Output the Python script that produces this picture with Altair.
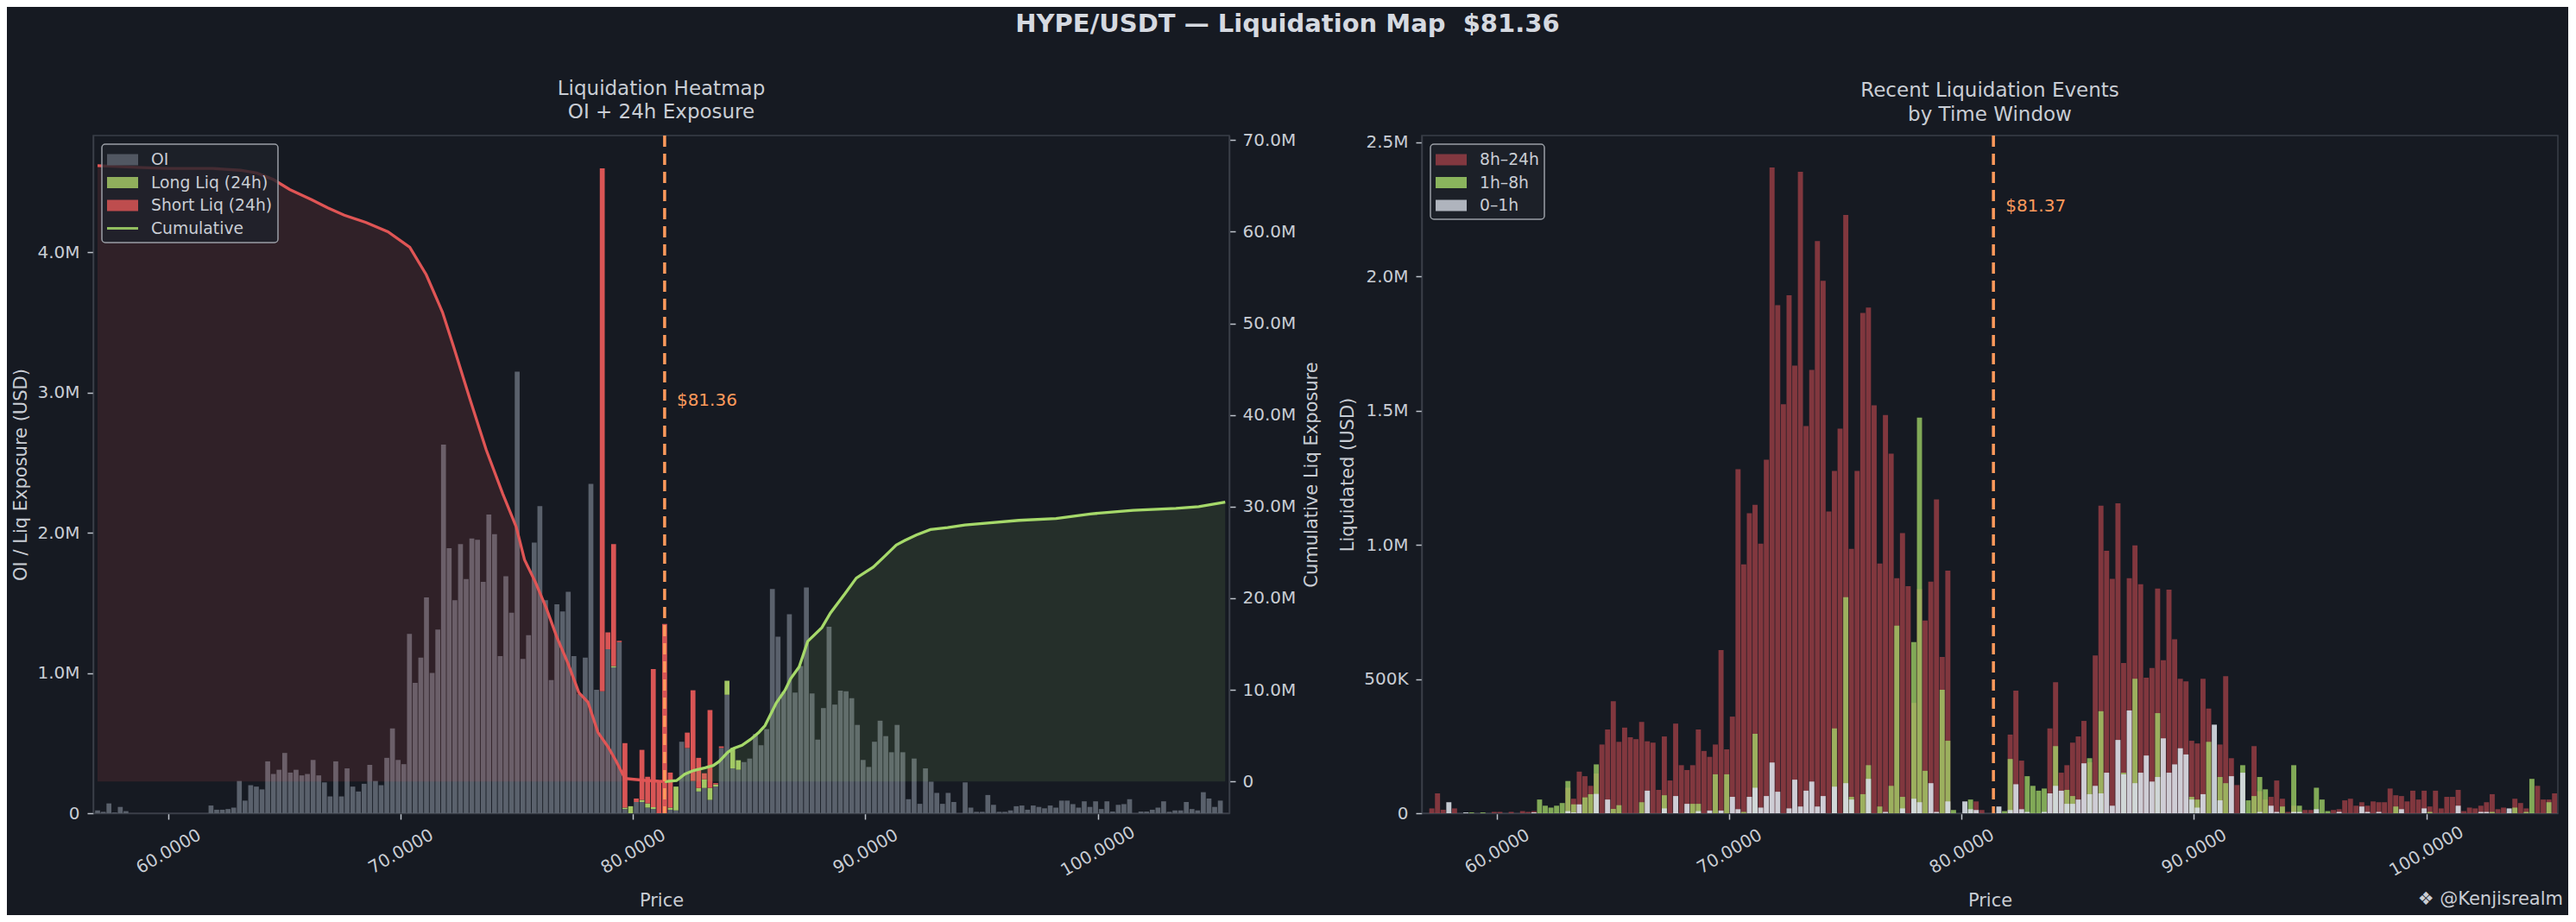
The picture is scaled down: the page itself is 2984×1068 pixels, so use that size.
import altair as alt
import pandas as pd

FONT = "DejaVu Sans"
BG = "#161a22"
TEXT = "#c9cdd4"
SPINE = "#3a3f48"
ORANGE = "#ff9a5c"
RED = "#e05555"
GREEN = "#a6d96a"

PRICE_LEFT = 81.36
PRICE_RIGHT = 81.37
BIN_STEP = 0.003                      # each bin is 0.3 % of price
BIN_OFFSETS = list(range(-100, 100))  # bin offsets from current price
X_DOMAIN = [56.95, 105.48]

x_ticks = [60, 70, 80, 90, 100]
left_ticks = [0, 1e6, 2e6, 3e6, 4e6]
cum_ticks = [0, 1e7, 2e7, 3e7, 4e7, 5e7, 6e7, 7e7]
right_ticks = [0, 5e5, 1e6, 1.5e6, 2e6, 2.5e6]

# ---------------- left panel (millions USD), bins -100..99 ----------------
oi_m = [
    0.02, 0.01, 0.07, 0.005, 0.045, 0.015, 0, 0, 0, 0,
    0, 0, 0, 0, 0, 0, 0, 0, 0, 0,
    0.055, 0.025, 0.025, 0.03, 0.04, 0.23, 0.09, 0.2, 0.19, 0.17,
    0.37, 0.28, 0.31, 0.43, 0.29, 0.31, 0.27, 0.28, 0.38, 0.27,
    0.22, 0.12, 0.37, 0.12, 0.32, 0.19, 0.155, 0.21, 0.345, 0.23,
    0.2, 0.395, 0.605, 0.38, 0.35, 1.28, 0.93, 1.11, 1.54, 1.0,
    1.31, 2.63, 1.89, 1.52, 1.92, 1.67, 1.96, 1.95, 1.65, 2.13,
    1.99, 1.12, 1.69, 1.43, 3.15, 1.10, 1.27, 1.93, 2.19, 1.52,
    0.95, 1.49, 1.44, 1.58, 1.12, 0.85, 1.11, 2.35, 0.88, 0.87,
    1.17, 1.04, 1.22, 0.03, 0, 0.08, 0.08, 0.04, 0.03, 0,
    0, 0.025, 0.02, 0.51, 0.465, 0.23, 0.155, 0.18, 0.095, 0.19,
    0.465, 0.845, 0.32, 0.31, 0.365, 0.39, 0.565, 0.485, 0.6, 1.6,
    1.26, 0.865, 1.42, 0.86, 1.05, 1.61, 0.855, 0.525, 0.75, 1.33,
    0.775, 0.875, 0.87, 0.82, 0.63, 0.38, 0.33, 0.51, 0.66, 0.55,
    0.435, 0.63, 0.435, 0.10, 0.39, 0.067, 0.32, 0.225, 0.145, 0.067,
    0.145, 0.08, 0, 0.22, 0.04, 0.01, 0.01, 0.13, 0.06, 0.01,
    0.01, 0.02, 0.05, 0.055, 0.025, 0.055, 0.045, 0.035, 0.055, 0.04,
    0.09, 0.09, 0.065, 0.04, 0.085, 0.045, 0.085, 0.03, 0.085, 0.012,
    0.06, 0.065, 0.1, 0, 0.012, 0.012, 0.025, 0.04, 0.085, 0.01,
    0.02, 0.02, 0.08, 0.03, 0.02, 0.15, 0.105, 0.045, 0.09, 0,
]
long_liq_m = {-9: 0.01, -7: 0.01, -6: 0.05, -4: 0.015, -3: 0.03, -2: 0.013,
              1: 0.015, 2: 0.17, 6: 0.025, 7: 0.062, 8: 0.086, 9: 0.015,
              11: 0.1, 12: 0.146, 13: 0.068}
short_liq_m = {-11: 3.73, -10: 0.12, -9: 0.87, -8: 0.01, -7: 0.46, -5: 0.025,
               -4: 0.357, -3: 0.19, -2: 0.985, -1: 0.23, 0: 1.35, 1: 0.25,
               4: 0.11, 5: 0.647, 6: 0.215, 7: 0.043, 8: 0.555, 9: 0.01, 10: 0.012}

cum_short_price = [56.95, 58.87, 60.04, 61.92, 63.10, 63.80, 64.51, 65.22, 66.16, 66.86,
                   67.57, 68.51, 69.45, 70.39, 71.10, 71.80, 72.27, 72.97, 73.68, 74.39,
                   74.97, 75.33, 75.79, 76.27, 76.73, 77.20, 77.67, 78.06, 78.49, 78.92,
                   79.28, 79.65, 80.52, 81.31]
cum_short_m = [67.2, 67.0, 66.9, 66.9, 66.7, 66.4, 65.7, 64.6, 63.5, 62.6,
               61.8, 61.0, 60.0, 58.3, 55.3, 51.2, 47.5, 41.8, 36.2, 31.4,
               27.8, 24.2, 21.8, 18.9, 15.7, 12.9, 9.7, 8.66, 5.36, 3.8,
               2.2, 0.34, 0.12, 0.0]
cum_long_price = [81.37, 81.87, 82.23, 82.60, 83.10, 83.46, 83.71, 84.08, 84.32, 84.69,
                  85.06, 85.43, 85.68, 86.17, 86.54, 86.78, 87.15, 87.52, 88.13, 88.50,
                  89.12, 89.61, 89.85, 90.34, 90.84, 91.33, 91.70, 92.19, 92.80, 93.54,
                  94.28, 95.26, 96.61, 98.21, 99.68, 101.53, 103.37, 104.35, 105.49]
cum_long_m = [0.0, 0.1, 0.8, 1.2, 1.5, 1.75, 2.2, 3.2, 3.6, 3.95,
              4.6, 5.4, 6.1, 8.6, 9.95, 11.2, 12.5, 15.3, 16.8, 18.4,
              20.5, 22.2, 22.6, 23.4, 24.6, 25.8, 26.3, 26.9, 27.5, 27.7,
              28.0, 28.2, 28.5, 28.7, 29.2, 29.6, 29.8, 30.0, 30.5]

# ---------------- right panel (millions USD), bins -100..99 ----------------
liq_8h_24h_m = [
    0, 0.018, 0.074, 0.013, 0, 0.018, 0, 0, 0, 0,
    0, 0, 0.005, 0.005, 0, 0.005, 0, 0.008, 0.005, 0.008,
    0, 0, 0, 0, 0, 0.095, 0.054, 0.155, 0.138, 0.102,
    0.148, 0.256, 0.312, 0.417, 0.266, 0.319, 0.283, 0.276, 0.34, 0.268,
    0.263, 0.087, 0.286, 0.122, 0.334, 0.179, 0.161, 0.179, 0.312, 0.232,
    0.21, 0.256, 0.608, 0.238, 0.36, 1.282, 0.927, 1.118, 1.149, 1.004,
    1.317, 2.406, 1.893, 1.524, 1.93, 1.668, 2.39, 1.443, 1.652, 2.132,
    1.984, 1.124, 1.275, 1.433, 2.229, 0.985, 1.275, 1.864, 1.884, 1.52,
    0.93, 1.484, 1.34, 0.876, 1.044, 0.846, 0.411, 0.835, 0.718, 0.863,
    1.169, 0.582, 0.904, 0, 0, 0, 0, 0.044, 0.012, 0,
    0, 0, 0, 0.293, 0.457, 0.196, 0, 0, 0, 0,
    0.316, 0.488, 0.151, 0.179, 0.263, 0.286, 0.344, 0.19, 0.588, 1.146,
    0.978, 0.873, 1.155, 0.56, 0.876, 0.998, 0.853, 0.505, 0.541, 0.837,
    0.57, 0.833, 0.648, 0.501, 0.491, 0.27, 0.26, 0.501, 0.39, 0,
    0.256, 0.511, 0.205, 0.105, 0, 0, 0.25, 0.082, 0.051, 0.061,
    0.122, 0.054, 0.005, 0.028, 0, 0.012, 0.012, 0, 0, 0,
    0.012, 0.015, 0.048, 0.054, 0.028, 0.041, 0.028, 0.044, 0.041, 0.041,
    0.092, 0.067, 0.064, 0.044, 0.084, 0.051, 0.084, 0.025, 0.084, 0.018,
    0.061, 0.061, 0.087, 0.008, 0.021, 0.018, 0.028, 0.041, 0.071, 0.015,
    0.021, 0, 0.054, 0.038, 0.018, 0, 0.102, 0.051, 0.051, 0.074,
]
liq_1h_8h_m = {-92: 0.003, -90: 0.003, -80: 0.051, -79: 0.028, -78: 0.021, -77: 0.028,
               -76: 0.038, -75: 0.12, -74: 0.033, -72: 0.059, -71: 0.071, -70: 0.182,
               -67: 0.016, -66: 0.03, -62: 0.041, -58: 0.067, -53: 0.035, -52: 0.035,
               -49: 0.145, -47: 0.145, -44: 0.005, -42: 0.296, -28: 0.316, -26: 0.805,
               -25: 0.061, -23: 0.071, -22: 0.179, -20: 0.025, -18: 0.102, -17: 0.699,
               -16: 0.061, -14: 0.638, -13: 1.474, -12: 0.158, -9: 0.46, -8: 0.27,
               -7: 0.012, -4: 0.051, 2: 0.008, 3: 0.202, 6: 0.138, 7: 0.102, 8: 0.084,
               9: 0.092, 11: 0.25, 13: 0.087, 14: 0.064, 17: 0.205, 19: 0.38, 23: 0.151,
               25: 0.501, 29: 0.373, 35: 0.061, 36: 0.051, 38: 0.266, 40: 0.135,
               41: 0.112, 44: 0.179, 45: 0.048, 46: 0.064, 47: 0.135, 48: 0.089,
               51: 0.025, 53: 0.179, 54: 0.028, 57: 0.095, 58: 0.051, 59: 0.008,
               71: 0.025, 77: 0.005, 88: 0.005, 92: 0.021, 94: 0.005, 95: 0.128, 98: 0.041}
liq_0_1h_m = {-96: 0.041, -93: 0.003, -81: 0.003, -75: 0.008, -74: 0.003, -73: 0.033,
              -70: 0.072, -68: 0.051, -61: 0.084, -58: 0.018, -56: 0.064, -54: 0.035,
              -52: 0.008, -50: 0.01, -48: 0.01, -46: 0.061, -45: 0.015, -43: 0.061,
              -42: 0.095, -41: 0.021, -40: 0.064, -39: 0.189, -38: 0.08, -36: 0.018,
              -35: 0.125, -34: 0.025, -33: 0.084, -32: 0.118, -31: 0.025, -30: 0.064,
              -28: 0.099, -26: 0.112, -25: 0.051, -22: 0.128, -19: 0.005, -16: 0.018,
              -14: 0.054, -13: 0.041, -11: 0.112, -10: 0.005, -8: 0.044, -5: 0.044,
              -4: 0.015, -3: 0.012, 1: 0.025, 3: 0.012, 4: 0.108, 5: 0.015, 6: 0.005,
              9: 0.005, 10: 0.074, 11: 0.102, 12: 0.084, 13: 0.035, 14: 0.035, 15: 0.051,
              16: 0.186, 17: 0.071, 18: 0.102, 19: 0.074, 20: 0.151, 21: 0.028, 22: 0.273,
              23: 0.145, 24: 0.383, 25: 0.112, 26: 0.151, 27: 0.215, 28: 0.118, 29: 0.135,
              30: 0.279, 31: 0.151, 32: 0.182, 33: 0.242, 34: 0.219, 35: 0.051, 36: 0.021,
              37: 0.071, 39: 0.33, 40: 0.048, 42: 0.138, 44: 0.151, 47: 0.005, 49: 0.028,
              50: 0.005, 53: 0.005, 54: 0.005, 57: 0.015, 61: 0.005, 65: 0.025, 66: 0.005,
              68: 0.005, 72: 0.015, 76: 0.018, 82: 0.028, 86: 0.005, 87: 0.005, 91: 0.018}

LEFT_SERIES = ["OI", "Long Liq (24h)", "Short Liq (24h)", "Cumulative"]
LEFT_COLORS = ["#5a616c", "#a3c765", "#d95555", GREEN]
WINDOWS = ["8h\u201324h", "1h\u20138h", "0\u20131h"]
WINDOW_COLORS = ["#9c3f46", GREEN, "#d5dae2"]
SWATCH = "M-1,-0.55H2V0.55H-1Z"
LINE_SWATCH = "M-1,-0.13H2V0.13H-1Z"


def bin_price(j):
    return round(PRICE_LEFT * (1 + BIN_STEP * j), 4)


# ---------------- tables ----------------
left_rows = []
for i, j in enumerate(BIN_OFFSETS):
    p = bin_price(j)
    for order, name, v in ((0, "OI", oi_m[i]),
                           (1, "Long Liq (24h)", long_liq_m.get(j, 0.0)),
                           (2, "Short Liq (24h)", short_liq_m.get(j, 0.0))):
        if v > 0:
            left_rows.append({"price": p, "series": name, "ord": order, "value": v * 1e6})
left_df = pd.DataFrame(left_rows)

short_df = pd.DataFrame({"price": cum_short_price, "cum": [v * 1e6 for v in cum_short_m]})
long_df = pd.DataFrame({"price": cum_long_price, "cum": [v * 1e6 for v in cum_long_m],
                        "series": ["Cumulative"] * len(cum_long_price)})


def window_df(name, values_of):
    rows = []
    for i, j in enumerate(BIN_OFFSETS):
        v = values_of(i, j)
        if v > 0:
            rows.append({"price": bin_price(j), "window": name, "value": v * 1e6})
    return pd.DataFrame(rows)


r_df = window_df(WINDOWS[0], lambda i, j: liq_8h_24h_m[i])
g_df = window_df(WINDOWS[1], lambda i, j: liq_1h_8h_m.get(j, 0.0))
w_df = window_df(WINDOWS[2], lambda i, j: liq_0_1h_m.get(j, 0.0))

left_marker = pd.DataFrame({"price": [PRICE_LEFT], "cum": [41.6e6], "label": ["$81.36"]})
right_marker = pd.DataFrame({"price": [PRICE_RIGHT], "value": [2.26e6], "label": ["$81.37"]})
wm_df = pd.DataFrame({"label": ["\u2756 @Kenjisrealm"]})

W, H = 1316, 785


def x_enc():
    return alt.X("price:Q", title="Price",
                 scale=alt.Scale(domain=X_DOMAIN, nice=False, zero=False),
                 axis=alt.Axis(values=x_ticks, labelExpr="format(datum.value, '.4f')",
                               labelAngle=330, labelAlign="center", labelBaseline="middle",
                               labelPadding=37, titlePadding=14, labelFlush=False,
                               labelOverlap=False))


def legend(**kw):
    return alt.Legend(title=None, orient="top-left", offset=10, padding=6, rowPadding=4.5,
                      symbolSize=576, symbolStrokeWidth=0,
                      labelOffset=27, labelFontSize=18.75, labelColor=TEXT,
                      fillColor="rgba(30,34,42,0.8)", strokeColor="#9a9fa6",
                      cornerRadius=4, **kw)


# ---------------- left panel ----------------
y_left = alt.Y("value:Q", stack="zero", title="OI / Liq Exposure (USD)",
               scale=alt.Scale(domain=[0, 4.834e6], nice=False),
               axis=alt.Axis(values=left_ticks,
                             labelExpr="datum.value == 0 ? '0' : format(datum.value/1e6, '.1f') + 'M'",
                             labelPadding=9, titlePadding=8))
c_left = alt.Color("series:N", scale=alt.Scale(domain=LEFT_SERIES, range=LEFT_COLORS),
                   legend=legend(symbolOpacity=0.85))
s_left = alt.Shape("series:N", scale=alt.Scale(domain=LEFT_SERIES,
                                               range=[SWATCH, SWATCH, SWATCH, LINE_SWATCH]),
                   legend=legend(symbolOpacity=0.85))

bars = alt.Chart(left_df).mark_bar(size=5.7, clip=True).encode(
    x=x_enc(),
    y=y_left,
    color=c_left,
    order=alt.Order("ord:Q"),
)
# invisible points: only carry the legend symbol shapes
legend_pts = alt.Chart(left_df).mark_point(opacity=0, filled=True, size=1).encode(
    x=x_enc(), y=y_left, color=c_left, shape=s_left,
)

y_cum = alt.Y("cum:Q", title="Cumulative Liq Exposure",
              scale=alt.Scale(domain=[-3.46e6, 70.49e6], nice=False, zero=False),
              axis=alt.Axis(orient="right", values=cum_ticks,
                            labelExpr="datum.value == 0 ? '0' : format(datum.value/1e6, '.1f') + 'M'",
                            labelPadding=8, titlePadding=8, titleAngle=270, titleBaseline="top"))

area_s = alt.Chart(short_df).mark_area(color=RED, opacity=0.13, clip=True).encode(
    x=x_enc(), y=y_cum, y2=alt.datum(0))
line_s = alt.Chart(short_df).mark_line(color=RED, strokeWidth=3.3, clip=True).encode(
    x=x_enc(), y=y_cum)
area_l = alt.Chart(long_df).mark_area(color=GREEN, opacity=0.11, clip=True).encode(
    x=x_enc(), y=y_cum, y2=alt.datum(0))
line_l = alt.Chart(long_df).mark_line(color=GREEN, strokeWidth=3.3, clip=True).encode(
    x=x_enc(), y=y_cum)
rule_l = alt.Chart(left_marker).mark_rule(color=ORANGE, strokeWidth=3.5, strokeDash=[13, 8]).encode(
    x=x_enc())
text_l = alt.Chart(left_marker).mark_text(color=ORANGE, fontSize=20, align="left",
                                          baseline="middle", dx=14).encode(
    x=x_enc(), y=y_cum, text="label:N")

left = alt.layer(
    alt.layer(bars, legend_pts),
    alt.layer(area_s, line_s, area_l, line_l, rule_l, text_l),
).resolve_scale(y="independent").properties(
    width=W, height=H,
    title=alt.TitleParams(["Liquidation Heatmap", "OI + 24h Exposure"], fontSize=23,
                          fontWeight="normal", color=TEXT, lineHeight=27.6, offset=10,
                          frame="group", anchor="middle"),
)

# ---------------- right panel ----------------
y_right = alt.Y("value:Q", stack=None, title="Liquidated (USD)",
                scale=alt.Scale(domain=[0, 2.525e6], nice=False),
                axis=alt.Axis(values=right_ticks,
                              labelExpr="datum.value == 0 ? '0' : (datum.value < 1e6 ? format(datum.value/1e3, '.0f') + 'K' : format(datum.value/1e6, '.1f') + 'M')",
                              labelPadding=9, titlePadding=8))
c_right = alt.Color("window:N", scale=alt.Scale(domain=WINDOWS, range=WINDOW_COLORS),
                    legend=legend(symbolOpacity=0.8, symbolType=SWATCH))

rb = alt.Chart(r_df).mark_bar(size=5.9, clip=True, opacity=0.8).encode(x=x_enc(), y=y_right, color=c_right)
gb = alt.Chart(g_df).mark_bar(size=5.9, clip=True, opacity=0.75).encode(x=x_enc(), y=y_right, color=c_right)
wb = alt.Chart(w_df).mark_bar(size=5.9, clip=True, opacity=0.92).encode(x=x_enc(), y=y_right, color=c_right)
rule_r = alt.Chart(right_marker).mark_rule(color=ORANGE, strokeWidth=3.5, strokeDash=[13, 8]).encode(
    x=x_enc())
text_r = alt.Chart(right_marker).mark_text(color=ORANGE, fontSize=20, align="left",
                                           baseline="middle", dx=14).encode(
    x=x_enc(), y=y_right, text="label:N")
wm = alt.Chart(wm_df).mark_text(color=TEXT, fontSize=21, align="right", baseline="middle").encode(
    x=alt.value(W + 6), y=alt.value(H + 100), text="label:N")

right = alt.layer(rb, gb, wb, rule_r, text_r, wm).properties(
    width=W, height=H,
    title=alt.TitleParams(["Recent Liquidation Events", "by Time Window"], fontSize=23,
                          fontWeight="normal", color=TEXT, lineHeight=27.6, offset=10,
                          frame="group", anchor="middle"),
)

chart = alt.hconcat(left, right, spacing=18).resolve_scale(
    color="independent", shape="independent"
).resolve_legend(
    color="independent", shape="independent"
).properties(
    title=alt.TitleParams("HYPE/USDT \u2014 Liquidation Map\u00a0 $81.36", fontSize=29,
                          fontWeight="bold", color="#d5d9e0", anchor="middle", offset=48),
    background=BG,
    padding=5,
).configure(font=FONT).configure_view(
    stroke=SPINE, strokeWidth=1.5
).configure_axis(
    domainColor=SPINE, domainWidth=1.5, tickColor="#bfc4cc", tickWidth=1.5, tickSize=7,
    labelColor=TEXT, labelFontSize=20, titleColor=TEXT, titleFontSize=21,
    titleFontWeight="normal", grid=False, labelFont=FONT, titleFont=FONT,
).configure_legend(
    strokeWidth=1.5, labelFont=FONT,
).configure_title(font=FONT)

chart.save("out.html", embed_options={"renderer": "svg", "actions": False})
